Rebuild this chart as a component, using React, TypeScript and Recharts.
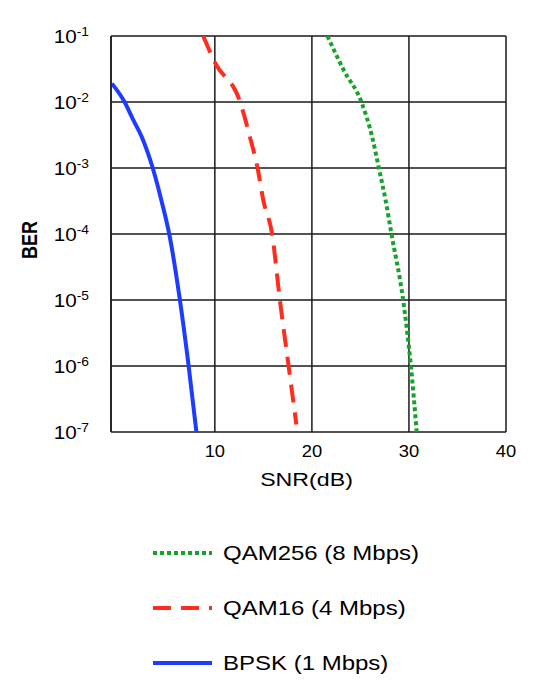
import { CartesianGrid, Legend, Line, LineChart, XAxis, YAxis } from "recharts";

const snrTicks = [10, 20, 30, 40];
const berTicks = [1e-1, 1e-2, 1e-3, 1e-4, 1e-5, 1e-6, 1e-7];

const qam256Snr = [21.6, 23.3, 25.1, 26.2, 26.9, 27.6, 28.2, 29.4, 30.2, 30.8];
const qam256Ber = [1e-1, 3e-2, 1e-2, 3e-3, 1e-3, 3.2e-4, 1e-4, 1e-5, 1e-6, 1e-7];

const qam16Snr = [8.8, 10.0, 12.6, 13.6, 14.4, 15.0, 15.9, 16.7, 17.6, 18.4];
const qam16Ber = [1e-1, 4e-2, 1e-2, 3e-3, 1e-3, 3.2e-4, 1e-4, 1e-5, 1e-6, 1.3e-7];

const bpskSnr = [-0.6, 0.7, 1.55, 2.45, 3.6, 4.5, 5.3, 6.4, 7.3, 8.1];
const bpskBer = [1.9e-2, 1e-2, 5.5e-3, 3e-3, 1e-3, 3.2e-4, 1e-4, 1e-5, 1e-6, 1e-7];

const toPoints = (snr: number[], ber: number[]) =>
  snr.map((x, i) => ({ snr: x, ber: ber[i] }));

const FONT = "'Liberation Sans', Arial, sans-serif";

// legend order top to bottom
const series = [
  { name: "QAM256 (8 Mbps)", color: "#17a22a", dash: "4 3", data: toPoints(qam256Snr, qam256Ber) },
  { name: "QAM16 (4 Mbps)", color: "#ff2d1e", dash: "18 10", data: toPoints(qam16Snr, qam16Ber) },
  { name: "BPSK (1 Mbps)", color: "#1e3cff", dash: undefined, data: toPoints(bpskSnr, bpskBer) },
];
const seriesOrder = series.map((s) => s.name);

const BerTick = (props: any) => {
  const { x, y, payload } = props;
  const exp = Math.round(Math.log10(payload.value));
  return (
    <g transform={`translate(${x - 14},${y + 6.5}) scale(1.15,1)`}>
      <text textAnchor="end" fontSize={18} fill="#000" fontFamily={FONT}>
        10
        <tspan dy={-7} fontSize={12}>
          {exp}
        </tspan>
      </text>
    </g>
  );
};

const SnrTick = (props: any) => {
  const { x, y, payload } = props;
  return (
    <g transform={`translate(${x},${y + 17}) scale(1.08,1)`}>
      <text textAnchor="middle" fontSize={17} fill="#000" fontFamily={FONT}>
        {payload.value}
      </text>
    </g>
  );
};

const SnrLabel = (props: any) => {
  const { x, y, width } = props.viewBox;
  return (
    <g transform={`translate(${x + width / 2 - 2},${y + 54}) scale(1.22,1)`}>
      <text textAnchor="middle" fontSize={19} fill="#000" fontFamily={FONT}>
        SNR(dB)
      </text>
    </g>
  );
};

const BerLabel = (props: any) => {
  const { x, y, height } = props.viewBox;
  return (
    <g transform={`translate(${x + 29},${y + height / 2 + 6}) scale(1.2,1) rotate(-90)`}>
      <text textAnchor="middle" fontSize={18} fontWeight="bold" fill="#000" fontFamily={FONT}>
        BER
      </text>
    </g>
  );
};

const LegendRows = (props: any) => {
  const items = [...(props.payload || [])].sort(
    (a: any, b: any) => seriesOrder.indexOf(a.value) - seriesOrder.indexOf(b.value)
  );
  return (
    <svg width={420} height={160}>
      {items.map((entry: any, i: number) => {
        const cy = 25 + i * 55;
        return (
          <g key={entry.value}>
            <line
              x1={145}
              x2={204}
              y1={cy}
              y2={cy}
              stroke={entry.color}
              strokeWidth={4}
              strokeDasharray={entry.payload?.strokeDasharray}
            />
            <g transform={`translate(215,${cy + 7}) scale(1.2,1)`}>
              <text fontSize={20} fill="#000" fontFamily={FONT}>
                {entry.value}
              </text>
            </g>
          </g>
        );
      })}
    </svg>
  );
};

export default function App() {
  return (
    <LineChart
      width={540}
      height={680}
      margin={{ top: 28, right: 42, bottom: 196, left: 0 }}
    >
      <CartesianGrid stroke="#1a1a1a" strokeWidth={1.5} />
      <XAxis
        dataKey="snr"
        type="number"
        domain={[-0.7, 40]}
        ticks={snrTicks}
        interval={0}
        allowDataOverflow
        axisLine={false}
        tickLine={false}
        height={60}
        tick={<SnrTick />}
        label={<SnrLabel />}
      />
      <YAxis
        dataKey="ber"
        type="number"
        scale="log"
        domain={[1e-7, 1e-1]}
        ticks={berTicks}
        interval={0}
        allowDataOverflow
        width={103}
        axisLine={{ stroke: "#1a1a1a", strokeWidth: 1.5 }}
        tickLine={false}
        tick={<BerTick />}
        label={<BerLabel />}
      />
      {series.map((s) => (
        <Line
          key={s.name}
          name={s.name}
          data={s.data}
          dataKey="ber"
          type="monotone"
          stroke={s.color}
          strokeWidth={4}
          strokeDasharray={s.dash}
          dot={false}
          activeDot={false}
          isAnimationActive={false}
        />
      ))}
      <Legend
        layout="horizontal"
        verticalAlign="middle"
        align="center"
        content={<LegendRows />}
        wrapperStyle={{ top: 520, left: 0, width: 420, height: 160 }}
      />
    </LineChart>
  );
}
